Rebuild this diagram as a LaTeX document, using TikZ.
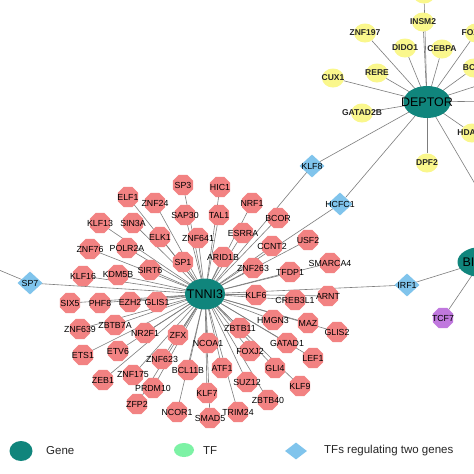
\documentclass[tikz,border=0pt]{standalone}
\usepackage{fontspec}
\setmainfont{Liberation Sans}
\usetikzlibrary{shapes.geometric}
\pgfdeclarelayer{bg}
\pgfsetlayers{bg,main}
\definecolor{genecol}{RGB}{16,133,124}
\definecolor{salmon}{RGB}{242,130,130}
\definecolor{yelcol}{RGB}{250,247,140}
\definecolor{diacol}{RGB}{128,196,236}
\definecolor{purpcol}{RGB}{192,120,222}
\definecolor{lgreen}{RGB}{125,242,165}
\definecolor{edgecol}{RGB}{125,125,125}
\tikzset{
  lbl/.style={font=\fontsize{8.8}{9}\selectfont, inner sep=0pt, text=black},
  ylbl/.style={font=\fontsize{8.5}{9}\selectfont\bfseries, inner sep=0pt, text=black!85},
  glbl/.style={font=\fontsize{12.5}{13}\selectfont, inner sep=0pt, text=black},
  gene/.style={ellipse, fill=genecol, draw=none, inner sep=0pt, label={[glbl]center:#1}},
  oct/.style={regular polygon, regular polygon sides=8, fill=salmon, draw=none, minimum size=22pt, inner sep=0pt, label={[lbl]center:#1}},
  poct/.style={regular polygon, regular polygon sides=8, fill=purpcol, draw=none, minimum size=22pt, inner sep=0pt, label={[lbl]center:#1}},
  yel/.style={ellipse, fill=yelcol, draw=none, minimum width=22pt, minimum height=19pt, inner sep=0pt, label={[ylbl]center:#1}},
  dia/.style={diamond, fill=diacol, draw=none, minimum width=25pt, minimum height=23pt, inner sep=0pt, label={[lbl]center:#1}},
  edge/.style={draw=edgecol, line width=0.6pt},
  legtext/.style={font=\fontsize{11.5}{12}\selectfont, anchor=west, inner sep=0pt, text=black!85}
}
\begin{document}
\begin{tikzpicture}[x=1pt,y=-1pt]
\useasboundingbox (0,0) rectangle (474,474);
% genes
\node[gene=TNNI3, minimum width=40pt, minimum height=31pt] (tnni3) at (205,294) {};
\node[gene=DEPTOR, minimum width=47pt, minimum height=32pt] (deptor) at (427,102) {};
\node[gene=BIRC5, minimum width=47pt, minimum height=30pt] (birc) at (481,262) {};
% TNNI3 TFs
\node[oct=ELF1] (elf1) at (128,197) {};
\node[oct=ZNF24] (znf24) at (155,203) {};
\node[oct=KLF13] (klf13) at (100,223) {};
\node[oct=SIN3A] (sin3a) at (133,223) {};
\node[oct=SP3] (sp3) at (183,185) {};
\node[oct=HIC1] (hic1) at (220,187) {};
\node[oct=SAP30] (sap30) at (185,215) {};
\node[oct=TAL1] (tal1) at (219,215) {};
\node[oct=NRF1] (nrf1) at (252,203) {};
\node[oct=BCOR] (bcor) at (278,218) {};
\node[oct=ELK1] (elk1) at (160,237) {};
\node[oct=ZNF641] (znf641) at (198,238) {};
\node[oct=ESRRA] (esrra) at (243,233) {};
\node[oct=CCNT2] (ccnt2) at (272,246) {};
\node[oct=USF2] (usf2) at (308,240) {};
\node[oct=ZNF76] (znf76) at (90,249) {};
\node[oct=POLR2A] (polr2a) at (127,248) {};
\node[oct=SP1] (sp1) at (183,262) {};
\node[oct=ARID1B] (arid1b) at (223,257) {};
\node[oct=ZNF263] (znf263) at (253,268) {};
\node[oct=TFDP1] (tfdp1) at (290,272) {};
\node[oct=SMARCA4] (smarca4) at (330,263) {};
\node[oct=SIRT6] (sirt6) at (150,270) {};
\node[oct=KLF16] (klf16) at (83,276) {};
\node[oct=KDM5B] (kdm5b) at (118,275) {};
\node[oct=KLF6] (klf6) at (256,295) {};
\node[oct=CREB3L1] (creb3l1) at (295,300) {};
\node[oct=ARNT] (arnt) at (328,296) {};
\node[oct=SIX5] (six5) at (70,303) {};
\node[oct=PHF8] (phf8) at (100,303) {};
\node[oct=EZH2] (ezh2) at (130,302) {};
\node[oct=GLIS1] (glis1) at (157,302) {};
\node[oct=ZNF639] (znf639) at (80,329) {};
\node[oct=ZBTB7A] (zbtb7a) at (115,325) {};
\node[oct=NR2F1] (nr2f1) at (145,333) {};
\node[oct=ZFX] (zfx) at (178,335) {};
\node[oct=NCOA1] (ncoa1) at (208,343) {};
\node[oct=ZBTB11] (zbtb11) at (240,328) {};
\node[oct=HMGN3] (hmgn3) at (273,320) {};
\node[oct=MAZ] (maz) at (308,323) {};
\node[oct=GLIS2] (glis2) at (337,332) {};
\node[oct=ETS1] (ets1) at (83,355) {};
\node[oct=ETV6] (etv6) at (118,351) {};
\node[oct=ZNF623] (znf623) at (162,359) {};
\node[oct=BCL11B] (bcl11b) at (188,370) {};
\node[oct=ATF1] (atf1) at (222,368) {};
\node[oct=FOXJ2] (foxj2) at (250,351) {};
\node[oct=GATAD1] (gatad1) at (287,343) {};
\node[oct=LEF1] (lef1) at (313,358) {};
\node[oct=GLI4] (gli4) at (275,368) {};
\node[oct=ZEB1] (zeb1) at (103,380) {};
\node[oct=ZNF175] (znf175) at (133,375) {};
\node[oct=PRDM10] (prdm10) at (153,388) {};
\node[oct=KLF7] (klf7) at (207,393) {};
\node[oct=SUZ12] (suz12) at (247,382) {};
\node[oct=KLF9] (klf9) at (300,386) {};
\node[oct=ZBTB40] (zbtb40) at (268,400) {};
\node[oct=ZFP2] (zfp2) at (137,404) {};
\node[oct=NCOR1] (ncor1) at (177,412) {};
\node[oct=TRIM24] (trim24) at (238,412) {};
\node[oct=SMAD5] (smad5) at (210,418) {};
% DEPTOR TFs
\node[yel=INSM2] (insm2) at (423,22) {};
\node[yel=] (ytop) at (424,-6) {};
\node[yel=ZNF197] (znf197) at (365,33) {};
\node[yel=FOXO1] (foxo) at (476,33) {};
\node[yel=DIDO1] (dido1) at (405,48) {};
\node[yel=CEBPA] (cebpa) at (442,49) {};
\node[yel=BCL6] (bcl) at (474,68) {};
\node[yel=CUX1] (cux1) at (333,78) {};
\node[yel=RERE] (rere) at (377,73) {};
\node[yel=GATAD2B] (gatad2b) at (362,113) {};
\node[yel=HDAC4] (hdac) at (472,133) {};
\node[yel=DPF2] (dpf2) at (427,163) {};
\coordinate (offR1) at (495,80);
\coordinate (offR2) at (495,101);
\coordinate (offR3) at (495,218);
% shared TFs
\node[dia=KLF8] (klf8) at (312,166) {};
\node[dia=HCFC1] (hcfc1) at (340,204) {};
\node[dia=SP7] (sp7) at (30,283) {};
\node[dia=IRF1] (irf1) at (407,285) {};
\coordinate (offL) at (-20,262);
\node[poct=TCF7] (tcf7) at (443,318) {};
% legend
\node[ellipse, fill=genecol, minimum width=23pt, minimum height=20pt, inner sep=0pt] (lgene) at (21,451) {};
\node[legtext] (lgenet) at (46,451) {Gene};
\node[ellipse, fill=lgreen, minimum width=20pt, minimum height=14pt, inner sep=0pt] (ltf) at (184,450) {};
\node[legtext] (ltft) at (203,451) {TF};
\node[diamond, fill=diacol, minimum width=22pt, minimum height=17pt, inner sep=0pt] (ldia) at (296,451) {};
\node[legtext] (ldiat) at (324,451) {TFs regulating two genes};
% edges
\begin{pgfonlayer}{bg}
\fill[white] (0,0) rectangle (474,474);
\foreach \n in {elf1,znf24,klf13,sin3a,sp3,hic1,sap30,tal1,nrf1,bcor,elk1,znf641,esrra,ccnt2,usf2,znf76,polr2a,sp1,arid1b,znf263,tfdp1,smarca4,sirt6,klf16,kdm5b,klf6,creb3l1,arnt,six5,phf8,ezh2,glis1,znf639,zbtb7a,nr2f1,zfx,ncoa1,zbtb11,hmgn3,maz,glis2,ets1,etv6,znf623,bcl11b,atf1,foxj2,gatad1,lef1,gli4,zeb1,znf175,prdm10,klf7,suz12,klf9,zbtb40,zfp2,ncor1,trim24,smad5,klf8,hcfc1,sp7,irf1}
  \draw[edge] (tnni3.center) -- (\n.center);
\foreach \n in {insm2,ytop,znf197,foxo,dido1,cebpa,bcl,cux1,rere,gatad2b,hdac,dpf2,klf8,hcfc1,offR1,offR2,offR3}
  \draw[edge] (deptor.center) -- (\n);
\draw[edge] (sp7.center) -- (offL);
\draw[edge] (birc.center) -- (irf1.center);
\draw[edge] (birc.center) -- (tcf7.center);
\end{pgfonlayer}
\end{tikzpicture}
\end{document}
